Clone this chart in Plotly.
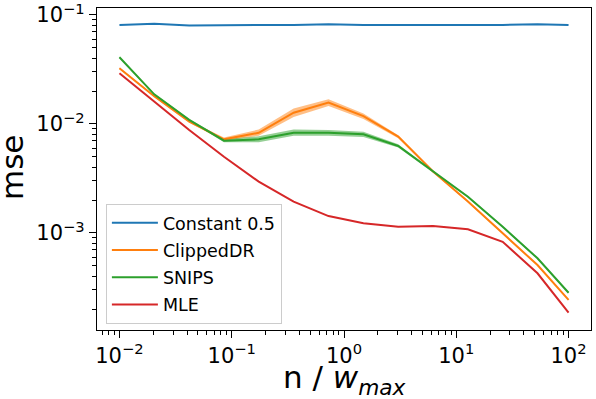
import numpy as np
import plotly.graph_objects as go

# x values: n / w_max
x = [0.01, 0.0204, 0.0418, 0.0853, 0.174, 0.356, 0.728, 1.49, 3.04, 6.21, 12.7, 25.9, 52.9, 100.0]

constant = [0.081, 0.083, 0.080, 0.081, 0.081, 0.081, 0.082, 0.081, 0.081, 0.080, 0.080, 0.081, 0.082, 0.081]

clipped = [0.0324, 0.0180, 0.0105, 0.00723, 0.0083, 0.0127, 0.0157, 0.0118, 0.00766, 0.00366, 0.00194, 0.00099, 0.000508, 0.000243]
clipped_lo = [0.0318, 0.0177, 0.0103, 0.0070, 0.0078, 0.0116, 0.0146, 0.0111, 0.0074, 0.0036, 0.0019, 0.00097, 0.000500, 0.000240]
clipped_hi = [0.0330, 0.0183, 0.0107, 0.0075, 0.0089, 0.0139, 0.0169, 0.0125, 0.0079, 0.0037, 0.00198, 0.00101, 0.000516, 0.000247]

snips = [0.0409, 0.0187, 0.0109, 0.00703, 0.00723, 0.0083, 0.0083, 0.00804, 0.00628, 0.00366, 0.00215, 0.00114, 0.000586, 0.000283]
snips_lo = [0.0402, 0.0184, 0.0107, 0.0068, 0.0068, 0.0078, 0.0078, 0.0076, 0.0061, 0.0036, 0.00211, 0.00112, 0.000578, 0.000279]
snips_hi = [0.0416, 0.0190, 0.0111, 0.0073, 0.0077, 0.0089, 0.0088, 0.0085, 0.0065, 0.0037, 0.00219, 0.00116, 0.000594, 0.000287]

mle = [0.0292, 0.0160, 0.0088, 0.0050, 0.00296, 0.00194, 0.00143, 0.00123, 0.00114, 0.00116, 0.00108, 0.00083, 0.000427, 0.000186]

names = ["Constant 0.5", "ClippedDR", "SNIPS", "MLE"]
colors = ["#1f77b4", "#ff7f0e", "#2ca02c", "#d62728"]
band_colors = ["rgba(31,119,180,0.5)", "rgba(255,127,14,0.5)", "rgba(44,160,44,0.5)", "rgba(214,39,40,0.5)"]

xtick_vals = [0.01, 0.1, 1, 10, 100]
xtick_text = ["10<sup>−2</sup>", "10<sup>−1</sup>", "10<sup>0</sup>", "10<sup>1</sup>", "10<sup>2</sup>"]
ytick_vals = [0.001, 0.01, 0.1]
ytick_text = ["10<sup>−3</sup>", "10<sup>−2</sup>", "10<sup>−1</sup>"]

x_title = "n / <i>w</i><sub><i>max</i></sub>"
y_title = "mse"

def minor_vals(lo_exp, hi_exp):
    return [m * 10.0 ** e for e in range(lo_exp, hi_exp) for m in range(2, 10)]

fig = go.Figure()

# bands
for lo, hi, bc in [(clipped_lo, clipped_hi, band_colors[1]), (snips_lo, snips_hi, band_colors[2])]:
    fig.add_trace(go.Scatter(x=x, y=hi, mode="lines", line=dict(width=0), showlegend=False, hoverinfo="skip"))
    fig.add_trace(go.Scatter(x=x, y=lo, mode="lines", line=dict(width=0), fill="tonexty",
                             fillcolor=bc, showlegend=False, hoverinfo="skip"))

for ys, nm, c in zip([constant, clipped, snips, mle], names, colors):
    fig.add_trace(go.Scatter(x=x, y=ys, mode="lines", name=nm, legendgroup=nm,
                             line=dict(color=c, width=2)))

font_family = "DejaVu Sans"
fig.update_layout(
    width=596, height=399,
    margin=dict(l=97, r=5, t=8, b=69),
    paper_bgcolor="white", plot_bgcolor="white",
    font=dict(family=font_family, color="black"),
    showlegend=True,
    legend=dict(x=0.018, y=0.019, xanchor="left", yanchor="bottom", traceorder="grouped",
                bgcolor="rgba(255,255,255,0.8)", bordercolor="#cccccc", borderwidth=1,
                font=dict(size=17.5, family=font_family), tracegroupgap=1.5, itemwidth=46),
    annotations=[
        dict(text=x_title, xref="paper", yref="paper", x=0.502, y=-0.155,
             xanchor="center", yanchor="middle", showarrow=False, font=dict(size=31)),
        dict(text=y_title, xref="paper", yref="paper", x=-0.172, y=0.503, textangle=-90,
             xanchor="center", yanchor="middle", showarrow=False, font=dict(size=31)),
    ],
)
common = dict(
    type="log", automargin=False,
    showgrid=False, zeroline=False,
    showline=True, linecolor="black", linewidth=1.2, mirror=True,
    ticks="outside", ticklen=7, tickwidth=1.2, tickcolor="black",
    tickmode="array", tickfont=dict(size=21), ticklabeloverflow="allow",
)
fig.update_xaxes(
    range=[-2.2, 2.2], tickvals=xtick_vals, ticktext=xtick_text,
    minor=dict(ticks="outside", ticklen=4, tickwidth=1, tickcolor="black",
               tickmode="array", tickvals=minor_vals(-3, 3), showgrid=False),
    **common,
)
fig.update_yaxes(
    range=[-3.89, -0.936], tickvals=ytick_vals, ticktext=ytick_text,
    minor=dict(ticks="outside", ticklen=4, tickwidth=1, tickcolor="black",
               tickmode="array", tickvals=minor_vals(-4, 0), showgrid=False),
    **common,
)

fig.write_html("out.html", config={"displayModeBar": False},
               post_script="document.body.style.margin='0px';")
